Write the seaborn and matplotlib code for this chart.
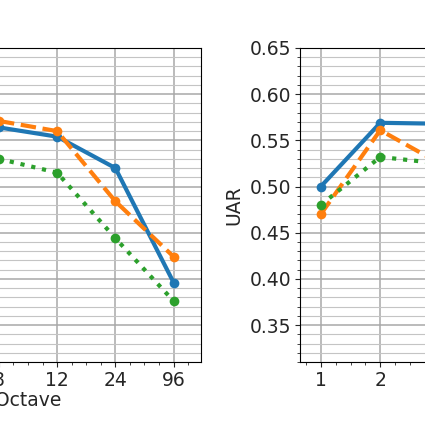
import matplotlib
matplotlib.use("Agg")
import matplotlib.pyplot as plt
import seaborn as sns
import pandas as pd
import numpy as np
from matplotlib.ticker import MultipleLocator, AutoMinorLocator

sns.set_style("ticks")
plt.rcParams['font.family'] = ['DejaVu Sans']

left_cats = ["2", "4", "8", "12", "24", "96"]
left_blue = [0.52, 0.55, 0.564, 0.554, 0.520, 0.396]
left_orange = [0.50, 0.545, 0.571, 0.560, 0.484, 0.424]
left_green = [0.49, 0.52, 0.530, 0.515, 0.444, 0.376]

right_cats = ["1", "2", "3", "4", "5", "6"]
right_blue = [0.500, 0.569, 0.568, 0.56, 0.55, 0.54]
right_orange = [0.470, 0.561, 0.525, 0.52, 0.51, 0.50]
right_green = [0.480, 0.532, 0.525, 0.52, 0.51, 0.50]

W = H = 425
fig = plt.figure(figsize=(4.25, 4.25), dpi=100)
top, bottom = 48, 362
axL = fig.add_axes([-145 / W, 1 - bottom / H, 346 / W, (bottom - top) / H])
axR = fig.add_axes([300 / W, 1 - bottom / H, 346 / W, (bottom - top) / H])

colors = ["#1f77b4", "#ff7f0e", "#2ca02c"]
styles = ["-", "--", ":"]

def draw(ax, cats, series, xlab, ylab, pad):
    for vals, c, ls in zip(series, colors, styles):
        df = pd.DataFrame({"x": np.arange(len(cats)), "y": vals})
        sns.lineplot(data=df, x="x", y="y", ax=ax, color=c, linestyle=ls,
                     linewidth=3, marker="o", markersize=7, markeredgewidth=0)
    ax.set_xticks(np.arange(len(cats)))
    ax.set_xticklabels(cats)
    ax.set_xlim(-pad, len(cats) - 1 + 0.47)
    ax.set_ylim(0.31, 0.65)
    ax.yaxis.set_major_locator(MultipleLocator(0.05))
    ax.yaxis.set_minor_locator(MultipleLocator(0.01))
    ax.xaxis.set_minor_locator(AutoMinorLocator(4))
    ax.grid(True, which="major", color="#a8a8a8", linewidth=1.1)
    ax.grid(True, which="minor", axis="y", color="#c4c4c4", linewidth=0.8)
    ax.tick_params(labelsize=13.5, pad=3)
    ax.set_xlabel(xlab, fontsize=13.5, labelpad=1)
    ax.set_ylabel(ylab, fontsize=13.5, labelpad=4)
    for s in ax.spines.values():
        s.set_color("black")

draw(axL, left_cats, [left_blue, left_orange, left_green], "Octave", "UAR", 0.47)
draw(axR, right_cats, [right_blue, right_orange, right_green], "", "UAR", 0.35)

fig.savefig("out.png", dpi=100)
